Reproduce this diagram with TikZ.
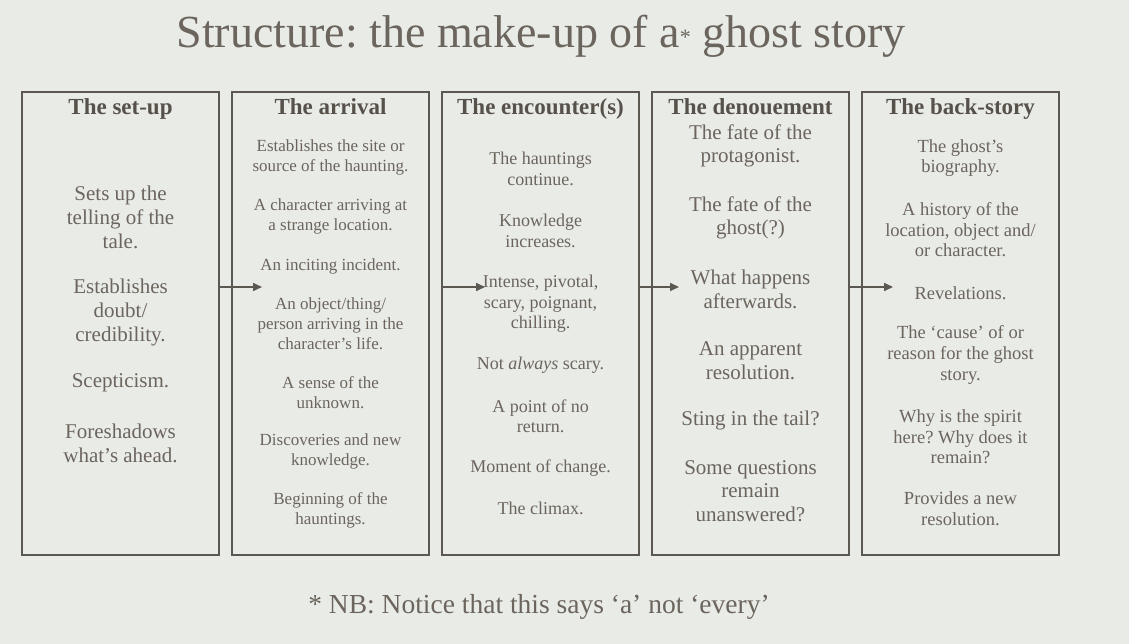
\documentclass[tikz,border=0pt]{standalone}
\usepackage{fontspec}
\setmainfont{Liberation Serif}
\usetikzlibrary{arrows.meta}
\frenchspacing
\definecolor{bg}{HTML}{E9EBE6}
\definecolor{ink}{HTML}{6B655E}
\definecolor{headink}{HTML}{57514B}
\definecolor{frame}{HTML}{5B5751}
\begin{document}
\begin{tikzpicture}[x=1pt,y=-1pt,
  stagebox/.style={draw=frame,line width=2.5pt,minimum width=197pt,minimum height=463pt,inner sep=0pt},
  headtxt/.style={text=headink,font=\bfseries\fontsize{23}{26}\selectfont,inner sep=0pt,anchor=base},
  txa/.style={text=ink,align=center,inner sep=0pt,font=\fontsize{21}{24}\selectfont},
  txb/.style={text=ink,align=center,inner sep=0pt,font=\fontsize{17}{20}\selectfont},
  txc/.style={text=ink,align=center,inner sep=0pt,font=\fontsize{18}{20.5}\selectfont},
  txd/.style={text=ink,align=center,inner sep=0pt,font=\fontsize{21}{23.7}\selectfont},
  txe/.style={text=ink,align=center,inner sep=0pt,font=\fontsize{18.5}{20.6}\selectfont},
  flow/.style={draw=frame,line width=1.6pt,-{Triangle[length=9pt,width=8pt]}}
]
\fill[bg] (0,0) rectangle (1129,644);
\useasboundingbox (0,0) rectangle (1129,644);

% title and footer
\node[text=ink,inner sep=0pt,font=\fontsize{46}{50}\selectfont] (title) at (541,36)
  {Structure: the make-up of a\raisebox{3pt}{\fontsize{22}{22}\selectfont *} ghost story};
\node[text=ink,inner sep=0pt,font=\fontsize{27.5}{30}\selectfont] (foot) at (539,607)
  {* NB: Notice that this says ‘a’ not ‘every’};

% boxes
\node[stagebox] (b1) at (120.5,323.5) {};
\node[stagebox] (b2) at (330.5,323.5) {};
\node[stagebox] (b3) at (540.5,323.5) {};
\node[stagebox] (b4) at (750.5,323.5) {};
\node[stagebox] (b5) at (960.5,323.5) {};

% headings
\node[headtxt] (h1) at (120.5,115) {The set-up};
\node[headtxt] (h2) at (330.5,115) {The arrival};
\node[headtxt] (h3) at (540.5,115) {The encounter(s)};
\node[headtxt] (h4) at (750.5,115) {The denouement};
\node[headtxt] (h5) at (960.5,115) {The back-story};

% box 1
\node[txa] (p11) at (120.5,217) {Sets up the\\telling of the\\tale.};
\node[txa] (p12) at (120.5,312) {Establishes\\doubt/\\credibility.};
\node[txa] (p13) at (120.5,383) {Scepticism.};
\node[txa] (p14) at (120.5,443) {Foreshadows\\what’s ahead.};

% box 2
\node[txb] (p21) at (330.5,157) {Establishes the site or\\source of the haunting.};
\node[txb] (p22) at (330.5,216) {A character arriving at\\a strange location.};
\node[txb] (p23) at (330.5,266) {An inciting incident.};
\node[txb] (p24) at (330.5,324) {An object/thing/\\person arriving in the\\character’s life.};
\node[txb] (p25) at (330.5,393) {A sense of the\\unknown.};
\node[txb] (p26) at (330.5,451) {Discoveries and new\\knowledge.};
\node[txb] (p27) at (330.5,510) {Beginning of the\\hauntings.};

% box 3
\node[txc] (p31) at (540.5,169) {The hauntings\\continue.};
\node[txc] (p32) at (540.5,231) {Knowledge\\increases.};
\node[txc] (p33) at (540.5,304) {Intense, pivotal,\\scary, poignant,\\chilling.};
\node[txc] (p34) at (540.5,365) {Not \textit{always} scary.};
\node[txc] (p35) at (540.5,416.5) {A point of no\\return.};
\node[txc] (p36) at (540.5,468) {Moment of change.};
\node[txc] (p37) at (540.5,508) {The climax.};

% box 4
\node[txd] (p41) at (750.5,146) {The fate of the\\protagonist.};
\node[txd] (p42) at (750.5,218) {The fate of the\\ghost(?)};
\node[txd] (p43) at (750.5,289.5) {What happens\\afterwards.};
\node[txd] (p44) at (750.5,361) {An apparent\\resolution.};
\node[txd] (p45) at (750.5,420) {Sting in the tail?};
\node[txd] (p46) at (750.5,491) {Some questions\\remain\\unanswered?};

% box 5
\node[txe] (p51) at (960.5,158) {The ghost’s\\biography.};
\node[txe] (p52) at (960.5,230) {A history of the\\location, object and/\\or character.};
\node[txe] (p53) at (960.5,293) {Revelations.};
\node[txe] (p54) at (960.5,355) {The ‘cause’ of or\\reason for the ghost\\story.};
\node[txe] (p55) at (960.5,437) {Why is the spirit\\here? Why does it\\remain?};
\node[txe] (p56) at (960.5,508.5) {Provides a new\\resolution.};

% arrows
\coordinate (e1) at (262,287);
\coordinate (e2) at (485,287);
\coordinate (e3) at (679,287);
\coordinate (e4) at (893,287);
\draw[flow] (b1.east |- e1) -- (e1);
\draw[flow] (b3.west |- e2) -- (e2);
\draw[flow] (b3.east |- e3) -- (e3);
\draw[flow] (b4.east |- e4) -- (e4);
\end{tikzpicture}
\end{document}
